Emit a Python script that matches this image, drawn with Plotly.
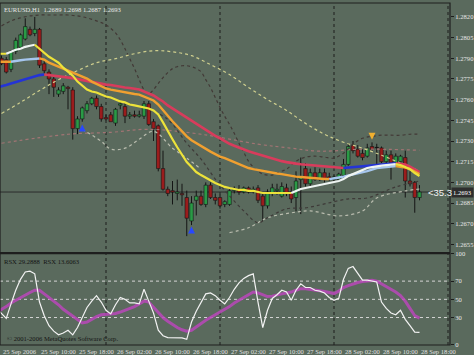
import plotly.graph_objects as go

# ---------------- DATA ----------------
# Bar index: 0 = 25 Sep 2006 00:00, one bar per hour (EURUSD, H1)
FIRST_BAR = 2
opens = [1.2790, 1.2789, 1.2782, 1.2795, 1.2798, 1.2804, 1.2811, 1.2808, 1.2811, 1.2786,
         1.2780, 1.2775, 1.2764, 1.2766, 1.2769, 1.2767, 1.2739, 1.2746, 1.2752, 1.2757,
         1.2761, 1.2755, 1.2747, 1.2749, 1.2743, 1.2756, 1.2755, 1.2748, 1.2749, 1.2748,
         1.2748, 1.2757, 1.2744, 1.2741, 1.2710, 1.2695, 1.2694, 1.2692, 1.2692, 1.2689,
         1.2672, 1.2687, 1.2690, 1.2684, 1.2698, 1.2689, 1.2689, 1.2684, 1.2684, 1.2694,
         1.2695, 1.2693, 1.2696, 1.2694, 1.2696, 1.2690, 1.2683, 1.2692, 1.2694, 1.2690,
         1.2696, 1.2693, 1.2689, 1.2702, 1.2710, 1.2699, 1.2707, 1.2702, 1.2707, 1.2704,
         1.2702, 1.2702, 1.2705, 1.2713, 1.2727, 1.2724, 1.2721, 1.2719, 1.2726, 1.2725,
         1.2725, 1.2715, 1.2720, 1.2714, 1.2715, 1.2718, 1.2701, 1.2700, 1.2689]
highs = [1.2792, 1.2791, 1.2796, 1.2805, 1.2808, 1.2819, 1.2813, 1.2820, 1.2812, 1.2788,
         1.2782, 1.2777, 1.2769, 1.2772, 1.2770, 1.2769, 1.2748, 1.2755, 1.2759, 1.2762,
         1.2763, 1.2757, 1.2749, 1.2751, 1.2754, 1.2759, 1.2758, 1.2751, 1.2752, 1.2752,
         1.2759, 1.2759, 1.2746, 1.2742, 1.2723, 1.2697, 1.2701, 1.2702, 1.2699, 1.2694,
         1.2690, 1.2694, 1.2694, 1.2700, 1.2700, 1.2692, 1.2691, 1.2687, 1.2695, 1.2697,
         1.2698, 1.2697, 1.2697, 1.2697, 1.2698, 1.2692, 1.2695, 1.2699, 1.2699, 1.2700,
         1.2699, 1.2697, 1.2708, 1.2718, 1.2714, 1.2710, 1.2711, 1.2710, 1.2710, 1.2707,
         1.2705, 1.2707, 1.2717, 1.2728, 1.2730, 1.2727, 1.2724, 1.2728, 1.2729, 1.2728,
         1.2726, 1.2723, 1.2723, 1.2721, 1.2720, 1.2723, 1.2708, 1.2701, 1.2698]
lows = [1.2785, 1.2779, 1.2780, 1.2793, 1.2797, 1.2803, 1.2806, 1.2806, 1.2783, 1.2779,
        1.2764, 1.2762, 1.2762, 1.2764, 1.2753, 1.2731, 1.2735, 1.2744, 1.2750, 1.2756,
        1.2753, 1.2744, 1.2745, 1.2744, 1.2741, 1.2753, 1.2743, 1.2746, 1.2747, 1.2747,
        1.2746, 1.2741, 1.2730, 1.2708, 1.2694, 1.2690, 1.2684, 1.2687, 1.2683, 1.2661,
        1.2669, 1.2676, 1.2683, 1.2682, 1.2688, 1.2684, 1.2681, 1.2682, 1.2683, 1.2692,
        1.2691, 1.2692, 1.2692, 1.2692, 1.2685, 1.2672, 1.2681, 1.2690, 1.2691, 1.2689,
        1.2690, 1.2685, 1.2679, 1.2677, 1.2697, 1.2697, 1.2701, 1.2701, 1.2700, 1.2701,
        1.2700, 1.2701, 1.2703, 1.2712, 1.2721, 1.2718, 1.2716, 1.2718, 1.2723, 1.2710,
        1.2714, 1.2714, 1.2702, 1.2713, 1.2714, 1.2689, 1.2697, 1.2678, 1.2687]
closes = [1.2786, 1.2780, 1.2795, 1.2803, 1.2807, 1.2813, 1.2807, 1.2811, 1.2785, 1.2781,
          1.2775, 1.2769, 1.2767, 1.2770, 1.2768, 1.2739, 1.2746, 1.2754, 1.2757, 1.2761,
          1.2755, 1.2746, 1.2746, 1.2744, 1.2753, 1.2757, 1.2748, 1.2749, 1.2748, 1.2749,
          1.2757, 1.2742, 1.2739, 1.2710, 1.2695, 1.2692, 1.2693, 1.2693, 1.2691, 1.2674,
          1.2685, 1.2690, 1.2684, 1.2698, 1.2689, 1.2687, 1.2683, 1.2686, 1.2694, 1.2695,
          1.2693, 1.2696, 1.2693, 1.2695, 1.2687, 1.2683, 1.2693, 1.2696, 1.2695, 1.2697,
          1.2692, 1.2688, 1.2701, 1.2704, 1.2699, 1.2707, 1.2702, 1.2707, 1.2702, 1.2703,
          1.2704, 1.2706, 1.2713, 1.2726, 1.2723, 1.2719, 1.2718, 1.2725, 1.2724, 1.2725,
          1.2715, 1.2720, 1.2714, 1.2719, 1.2719, 1.2701, 1.2699, 1.2689, 1.2693]

# Moving averages, one value per bar starting at bar 1
MA_FIRST = 1
ma_fast = [1.27933, 1.27933, 1.27933, 1.27947, 1.27962, 1.27969, 1.27983, 1.27991, 1.27998, 1.27969,
           1.27940, 1.27911, 1.27890, 1.27868, 1.27832, 1.27803, 1.27774, 1.27731, 1.27702, 1.27673,
           1.27659, 1.27652, 1.27637, 1.27623, 1.27616, 1.27601, 1.27587, 1.27580, 1.27565, 1.27558,
           1.27551, 1.27544, 1.27536, 1.27522, 1.27493, 1.27435, 1.27370, 1.27313, 1.27255, 1.27197,
           1.27147, 1.27111, 1.27075, 1.27053, 1.27032, 1.27010, 1.26995, 1.26981, 1.26967, 1.26959,
           1.26952, 1.26945, 1.26945, 1.26938, 1.26938, 1.26931, 1.26923, 1.26923, 1.26923, 1.26923,
           1.26923, 1.26923, 1.26923, 1.26938, 1.26952, 1.26959, 1.26967, 1.26974, 1.26981, 1.26988,
           1.26995, 1.27003, 1.27010, 1.27024, 1.27046, 1.27060, 1.27075, 1.27089, 1.27104, 1.27111,
           1.27118, 1.27122, 1.27125, 1.27129, 1.27132, 1.27125, 1.27111, 1.27096, 1.27068, 1.27046]
ma_mid = [1.27875, 1.27875, 1.27875, 1.27875, 1.27883, 1.27886, 1.27890, 1.27893, 1.27897, 1.27899,
          1.27890, 1.27868, 1.27854, 1.27839, 1.27825, 1.27814, 1.27800, 1.27782, 1.27767, 1.27753,
          1.27731, 1.27713, 1.27695, 1.27681, 1.27673, 1.27666, 1.27659, 1.27652, 1.27644, 1.27641,
          1.27637, 1.27623, 1.27608, 1.27594, 1.27565, 1.27522, 1.27479, 1.27443, 1.27407, 1.27370,
          1.27334, 1.27306, 1.27284, 1.27262, 1.27241, 1.27223, 1.27205, 1.27187, 1.27176, 1.27161,
          1.27147, 1.27132, 1.27118, 1.27104, 1.27096, 1.27089, 1.27082, 1.27075, 1.27068, 1.27064,
          1.27060, 1.27053, 1.27046, 1.27042, 1.27039, 1.27035, 1.27032, 1.27028, 1.27024, 1.27024,
          1.27024, 1.27028, 1.27035, 1.27042, 1.27050, 1.27057, 1.27064, 1.27071, 1.27082, 1.27093,
          1.27104, 1.27107, 1.27111, 1.27114, 1.27118, 1.27114, 1.27107, 1.27096, 1.27078, 1.27060]
ma_slow = [1.27688, 1.27695, 1.27706, 1.27717, 1.27727, 1.27738, 1.27749, 1.27760, 1.27771, 1.27778,
           1.27782, 1.27778, 1.27774, 1.27771, 1.27767, 1.27764, 1.27756, 1.27749, 1.27742, 1.27735,
           1.27727, 1.27720, 1.27717, 1.27709, 1.27706, 1.27699, 1.27695, 1.27688, 1.27684, 1.27677,
           1.27673, 1.27659, 1.27644, 1.27630, 1.27608, 1.27587, 1.27558, 1.27536, 1.27511, 1.27489,
           1.27464, 1.27443, 1.27421, 1.27403, 1.27381, 1.27360, 1.27338, 1.27320, 1.27298, 1.27280,
           1.27266, 1.27251, 1.27241, 1.27226, 1.27215, 1.27205, 1.27194, 1.27183, 1.27172, 1.27161,
           1.27154, 1.27147, 1.27140, 1.27136, 1.27132, 1.27129, 1.27125, 1.27122, 1.27118, 1.27114,
           1.27111, 1.27107, 1.27104, 1.27104, 1.27107, 1.27111, 1.27114, 1.27118, 1.27122, 1.27125,
           1.27129, 1.27132, 1.27135, 1.27137, 1.27138, 1.27136, 1.27129, 1.27114, 1.27096, 1.27075]

# Dotted envelope / band lines (bar index, price)
env_bars = [2, 6, 10, 14, 18, 22, 26, 30, 34, 38, 42, 46, 50, 54, 58, 62, 66, 70, 74, 78, 82, 86, 90]
env_vals = [1.27500, 1.27580, 1.27666, 1.27745, 1.27810, 1.27868, 1.27897, 1.27933, 1.27955, 1.27947,
            1.27919, 1.27854, 1.27782, 1.27688, 1.27601, 1.27522, 1.27428, 1.27349, 1.27291, 1.27248,
            1.27197, 1.27140, 1.27082]
upper_bars = [2, 4, 6, 8, 10, 12, 14, 16, 18, 20, 22, 24,
              26, 27, 28, 29, 30, 31, 32, 33, 34, 35, 36, 37, 38, 39, 40, 41, 42, 43, 44, 45, 46, 47,
              48, 49, 50, 51, 52, 53, 54, 55, 56, 57, 58, 59, 60,
              62, 64, 66, 68, 70, 72, 74, 76, 78, 80, 82, 84, 86, 88, 90]
upper_vals = [1.28135, 1.28171, 1.28193, 1.28207, 1.28214, 1.28214, 1.28214, 1.28214, 1.28207, 1.28193, 1.28171, 1.28142,
              1.28084, 1.28034, 1.27969, 1.27897, 1.27825, 1.27745, 1.27673, 1.27644, 1.27673, 1.27717, 1.27760,
              1.27796, 1.27825, 1.27839, 1.27846, 1.27846, 1.27839, 1.27825, 1.27803, 1.27745, 1.27688, 1.27616,
              1.27544, 1.27479, 1.27421, 1.27356, 1.27284, 1.27219, 1.27154, 1.27111, 1.27082, 1.27060, 1.27053,
              1.27053, 1.27068,
              1.27096, 1.27154, 1.27183, 1.27190, 1.27183, 1.27176, 1.27212, 1.27277, 1.27320, 1.27334, 1.27342,
              1.27342, 1.27342, 1.27349, 1.27349]
lower_bars = [33, 37, 41, 44, 47, 50, 53, 56, 58, 62, 66, 70, 75, 79, 85, 90]
lower_vals = [1.27529, 1.27457, 1.27284, 1.27169, 1.27024, 1.26902, 1.26793, 1.26707, 1.26743, 1.26808,
              1.26815, 1.26844, 1.26880, 1.26887, 1.26967, 1.27010]
light_a_bars = [19, 23, 25, 28, 31, 34, 38, 41, 44]
light_a_vals = [1.27385, 1.27298, 1.27241, 1.27248, 1.27313, 1.27370, 1.27248, 1.27176, 1.27096]
light_b_bars = [50, 54, 58, 63, 67, 73, 78, 81, 87, 90]
light_b_vals = [1.26635, 1.26671, 1.26743, 1.26779, 1.26793, 1.26757, 1.26793, 1.26887, 1.26938, 1.26952]
pink_bars = [2, 16, 25, 33, 44, 56, 63, 69, 78, 90]
pink_vals = [1.27284, 1.27349, 1.27363, 1.27385, 1.27349, 1.27277, 1.27248, 1.27226, 1.27241, 1.27233]

# Signal arrows (bar index, price)
buy_bars = [19, 42]
buy_vals = [1.2742, 1.2668]
sell_bars = [80]
sell_vals = [1.2731]

# RSX oscillator, one value per bar starting at bar 1
RSX_FIRST = 1
rsx_main = [40, 35, 29, 45, 60, 72, 80, 81, 78, 47,
            32, 21, 15, 11, 13, 16, 11, 19, 30, 41,
            48, 54, 47, 38, 34, 44, 52, 50, 46, 46,
            45, 61, 48, 35, 16, 10, 8, 7.6, 7.6, 7.6,
            6, 25, 37, 47, 56, 57, 54, 49, 45, 52,
            61, 68, 73, 76, 78, 47, 19, 38, 51, 55,
            60, 58, 49, 60, 67, 63, 63, 60, 59, 57,
            52, 49, 51, 72, 84, 86, 79, 71, 71, 70,
            69, 47, 40, 35, 33, 38, 28, 21, 14, 13.6063]
rsx_signal = [36, 39, 42, 46, 49, 52, 55, 57.5, 60, 60,
              56, 52, 49, 44, 39, 35, 31, 27, 24, 25,
              28, 31, 33, 33.5, 33.7, 34.5, 36, 38, 40, 42,
              45, 48, 47, 41, 35, 30, 26, 22, 19, 16.5,
              15, 16, 20, 24, 27, 30, 33, 36, 39, 42,
              46, 49, 52, 55, 58, 57, 55, 53, 53.5, 55,
              56, 57, 58, 60, 61.7, 61.5, 61, 60, 59.5, 58.5,
              57.5, 56.3, 59, 63, 65, 67, 68.5, 69.5, 70, 70.8,
              70, 67, 64, 61, 58, 54, 48, 40, 32, 29.2888]
rsx_levels = [30, 50, 70]
rsx_ticks = [0, 30, 50, 70, 100]

price_ticks = [1.2655, 1.2670, 1.2685, 1.2700, 1.2715, 1.2730, 1.2745, 1.2760, 1.2775, 1.2790, 1.2805, 1.2820]
time_label_bars = [2, 10, 18, 26, 34, 42, 50, 58, 66, 74, 82, 90]
time_labels = ["25 Sep 2006", "25 Sep 10:00", "25 Sep 18:00", "26 Sep 02:00", "26 Sep 10:00",
               "26 Sep 18:00", "27 Sep 02:00", "27 Sep 10:00", "27 Sep 18:00", "28 Sep 02:00",
               "28 Sep 10:00", "28 Sep 18:00"]
BARS_PER_DAY = 24
range_label = "<35.3"

# ---------------- STYLE ----------------
BG = "#5a6a5d"
FONT = "Liberation Serif"
BULL = "#2a9a46"
BEAR = "#9a1c1c"
WICK = "#141414"
X_RANGE = [1.684, 96.42]
Y_RANGE = [1.26491, 1.28301]
MAIN_DOM = [0.2703, 1.0]
SUB_DOM = [0.0, 0.2674]

fig = go.Figure()

bars = list(range(FIRST_BAR, FIRST_BAR + len(opens)))

# wicks (above and below bodies)
wx, wy = [], []
for k, o, h, l, c in zip(bars, opens, highs, lows, closes):
    top, bot = max(o, c), min(o, c)
    wx += [k, k, None, k, k, None]
    wy += [h, top, None, bot, l, None]
fig.add_trace(go.Scatter(x=wx, y=wy, mode="lines", line=dict(color=WICK, width=1),
                         hoverinfo="skip", xaxis="x", yaxis="y"))

# bodies
bases = [min(o, c) for o, c in zip(opens, closes)]
heights = [max(abs(c - o), 0.00004) for o, c in zip(opens, closes)]
cols = [BULL if c > o else (BEAR if c < o else WICK) for o, c in zip(opens, closes)]
fig.add_trace(go.Bar(x=bars, y=heights, base=bases, width=0.74,
                     marker=dict(color=cols, line=dict(color=WICK, width=0.6)),
                     hoverinfo="skip", xaxis="x", yaxis="y"))

# dotted lines
def dotted(xs, ys, color, width=1.2):
    fig.add_trace(go.Scatter(x=xs, y=ys, mode="lines", line=dict(color=color, width=width, dash="dot", shape="spline"),
                             hoverinfo="skip", xaxis="x", yaxis="y"))

dotted(pink_bars, pink_vals, "#a27474")
dotted(light_a_bars, light_a_vals, "#b9bcae")
dotted(light_b_bars, light_b_vals, "#b9bcae")
dotted(lower_bars, lower_vals, "#3e3a38")
dotted(upper_bars, upper_vals, "#423936")
dotted(env_bars, env_vals, "#cfcf8e")


def trend_line(values, first, up_color, down_color, width):
    ks = list(range(first, first + len(values)))
    runs = []
    for i in range(1, len(values)):
        state = values[i] > values[i - 1]
        if runs and runs[-1][0] == state:
            runs[-1][2] = i
        else:
            runs.append([state, i - 1, i])
    for state, a, b in runs:
        fig.add_trace(go.Scatter(x=ks[a:b + 1], y=values[a:b + 1], mode="lines",
                                 line=dict(color=up_color if state else down_color, width=width),
                                 hoverinfo="skip", xaxis="x", yaxis="y"))


trend_line(ma_slow, MA_FIRST, "#2434d6", "#d83c5c", 2.6)
trend_line(ma_mid, MA_FIRST, "#a6c6ee", "#f0a030", 2.4)
trend_line(ma_fast, MA_FIRST, "#eef4f2", "#ece23a", 2.2)

# arrows
fig.add_trace(go.Scatter(x=buy_bars, y=buy_vals, mode="markers",
                         marker=dict(symbol="arrow-up", size=7, color="#2848ff"),
                         hoverinfo="skip", xaxis="x", yaxis="y"))
fig.add_trace(go.Scatter(x=sell_bars, y=sell_vals, mode="markers",
                         marker=dict(symbol="arrow-down", size=7, color="#f0b030"),
                         hoverinfo="skip", xaxis="x", yaxis="y"))

# RSX panel
rk = list(range(RSX_FIRST, RSX_FIRST + len(rsx_main)))
fig.add_trace(go.Scatter(x=rk, y=rsx_signal, mode="lines", line=dict(color="rgba(186,70,186,0.85)", width=3.0),
                         hoverinfo="skip", xaxis="x", yaxis="y2"))
fig.add_trace(go.Scatter(x=rk, y=rsx_main, mode="lines", line=dict(color="#f2f2f2", width=1.2),
                         hoverinfo="skip", xaxis="x", yaxis="y2"))

shapes = []
for lv in rsx_levels:
    shapes.append(dict(type="line", xref="paper", x0=0, x1=1, yref="y2", y0=lv, y1=lv,
                       line=dict(color="#d4d4d4", width=1, dash="3px,3px"), layer="below"))
for d in range(BARS_PER_DAY, int(X_RANGE[1]) + 1, BARS_PER_DAY):
    shapes.append(dict(type="line", xref="x", x0=d, x1=d, yref="paper", y0=0, y1=1,
                       line=dict(color="#1c1c1c", width=1, dash="dot"), layer="below"))
shapes.append(dict(type="line", xref="paper", x0=0, x1=1, yref="y", y0=closes[-1], y1=closes[-1],
                   line=dict(color="#2c2c2c", width=1), layer="below"))
for dom in (MAIN_DOM, SUB_DOM):
    shapes.append(dict(type="rect", xref="paper", x0=0, x1=1, yref="paper", y0=dom[0], y1=dom[1],
                       line=dict(color="#1e1e1e", width=1.2)))

ann = []
tf = dict(family=FONT, size=6.6, color="#e8e8e8")
ann.append(dict(xref="paper", yref="paper", x=0, y=1, xanchor="left", yanchor="top", xshift=2, yshift=-1,
                text=f"EURUSD,H1  {opens[-1]:.4f} {highs[-1]:.4f} {lows[-1]:.4f} {closes[-1]:.4f}",
                showarrow=False, font=tf))
ann.append(dict(xref="paper", yref="paper", x=0, y=SUB_DOM[1], xanchor="left", yanchor="top", xshift=2, yshift=-2,
                text=f"RSX {rsx_signal[-1]:.4f}  RSX {rsx_main[-1]:.4f}", showarrow=False,
                font=dict(family=FONT, size=6.6, color="#141414")))
ann.append(dict(xref="paper", yref="paper", x=0, y=0, xanchor="left", yanchor="bottom", xshift=5, yshift=1,
                text="\u00a9 2001-2006 MetaQuotes Software Corp.", showarrow=False,
                font=dict(family=FONT, size=6.6, color="#141414")))
ann.append(dict(xref="paper", yref="y", x=1, y=closes[-1], xanchor="left", yanchor="middle", xshift=1,
                text=f"{closes[-1]:.4f}", showarrow=False, bgcolor="#2e2e2e", borderpad=1,
                font=dict(family=FONT, size=6.6, color="#ffffff")))
ann.append(dict(xref="paper", yref="y", x=0.946, y=closes[-1], xanchor="left", yanchor="middle",
                text=range_label, showarrow=False, font=dict(family="Liberation Sans", size=9.5, color="#f4f4f4")))
for k, t in zip(time_label_bars, time_labels):
    ann.append(dict(xref="x", yref="paper", x=k, y=0, xanchor="left", yanchor="top", yshift=-1, xshift=-1,
                    text=t, showarrow=False, font=dict(family=FONT, size=6.6, color="#e0e0e0")))

fig.update_layout(
    width=474, height=355, margin=dict(l=0, r=24, t=1, b=10),
    paper_bgcolor=BG, plot_bgcolor=BG, showlegend=False, barmode="overlay",
    shapes=shapes, annotations=ann,
    xaxis=dict(range=X_RANGE, showgrid=False, zeroline=False, showticklabels=False, ticks="", anchor="y2"),
    yaxis=dict(domain=MAIN_DOM, range=Y_RANGE, side="right", anchor="x", showgrid=False, zeroline=False,
               tickvals=price_ticks, ticktext=[f"{v:.4f}" for v in price_ticks], ticks="outside", ticklen=3,
               tickcolor="#1e1e1e", tickfont=dict(family=FONT, size=6.6, color="#e6e6e6")),
    yaxis2=dict(domain=SUB_DOM, range=[-0.2, 100.3], side="right", anchor="x", showgrid=False, zeroline=False,
                tickvals=rsx_ticks, ticktext=[str(v) for v in rsx_ticks], ticks="outside", ticklen=3,
                tickcolor="#1e1e1e", tickfont=dict(family=FONT, size=6.6, color="#e6e6e6")),
)

fig.write_html("out.html")
